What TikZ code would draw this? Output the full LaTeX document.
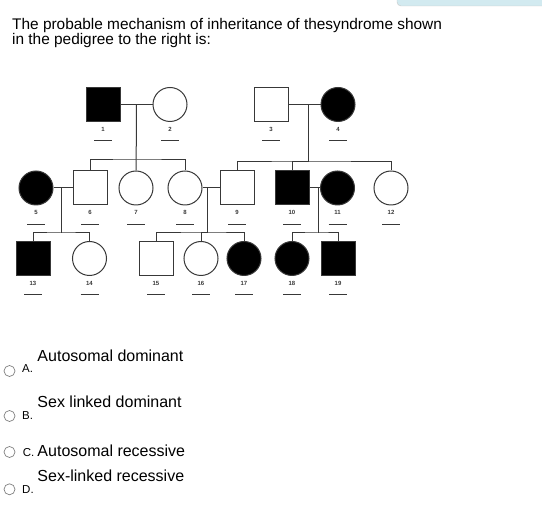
\documentclass[tikz,border=0pt]{standalone}
\usepackage{fontspec}
\setmainfont{Liberation Sans}
\usetikzlibrary{positioning}

\definecolor{pedline}{gray}{0.22}
\definecolor{barfill}{HTML}{D2EAF0}
\definecolor{radiogray}{gray}{0.5}

\tikzset{
  male/.style={draw=pedline, line width=1pt, rectangle, minimum size=34pt, inner sep=0pt},
  female/.style={draw=pedline, line width=1pt, circle, minimum size=34pt, inner sep=0pt},
  affected/.style={fill=black},
  idnum/.style={font=\fontsize{6}{6}\selectfont\bfseries, text=pedline, inner sep=0pt},
  kin/.style={draw=pedline, line width=1pt},
  blank/.style={draw=pedline, line width=0.9pt},
  radio/.style={draw=radiogray, circle, minimum size=11pt, inner sep=0pt, line width=0.7pt},
  question/.style={anchor=north west, inner sep=0pt, align=left, font=\fontsize{15.4}{12.3}\selectfont},
  choice/.style={anchor=base west, inner sep=0pt, font=\fontsize{16}{16}\selectfont},
  letter/.style={anchor=base west, inner sep=0pt, font=\fontsize{11.5}{11.5}\selectfont}
}

\begin{document}
\begin{tikzpicture}[x=1pt, y=-1pt]
\useasboundingbox (0,0) rectangle (542,518);

% top bar
\draw [draw=black!22, fill=barfill, rounded corners=4pt] (397,-10) rectangle (556,6);

% question
\node [question] (q) at (12,18) {The probable mechanism of inheritance of thesyndrome shown\\in the pedigree to the right is:};

% generation I
\node [male, affected] (p1) at (103,104.5) {};
\node [female] (p2) at (170,104.5) {};
\node [male] (p3) at (271,104.5) {};
\node [female, affected] (p4) at (338,104.5) {};

% generation II
\node [female, affected] (p5) at (36,188) {};
\node [male] (p6) at (90,188) {};
\node [female] (p7) at (136,188) {};
\node [female] (p8) at (185,188) {};
\node [male] (p9) at (237,188) {};
\node [male, affected] (p10) at (292,188) {};
\node [female, affected] (p11) at (337.5,188) {};
\node [female] (p12) at (391,188) {};

% generation III
\node [male, affected] (p13) at (33,258.5) {};
\node [female] (p14) at (89.5,258.5) {};
\node [male] (p15) at (156,258.5) {};
\node [female] (p16) at (201,258.5) {};
\node [female, affected] (p17) at (244,258.5) {};
\node [female, affected] (p18) at (292,258.5) {};
\node [male, affected] (p19) at (338,258.5) {};

% numbers and blanks
\foreach \i in {1,...,19}{
  \node [idnum, below=5pt of p\i] (n\i) {\i};
  \draw [blank] (n\i.south) ++(-9pt,-9pt) -- ++(18pt,0pt);
}

% matings and sibships
\coordinate (m12) at (136.5,104.5);
\coordinate (s12) at (136.5,160);
\draw [kin] (p1) -- (p2);
\draw [kin] (m12) -- (p7);
\draw [kin] (p6) |- (s12) -| (p8);

\coordinate (m34) at (308,104.5);
\coordinate (s34) at (308,162);
\draw [kin] (p3) -- (p4);
\draw [kin] (m34) -- (s34);
\draw [kin] (p9) |- (s34) -| (p12);
\draw [kin] (p10) |- (s34);

\coordinate (m56) at (61,188);
\coordinate (s56) at (61,233);
\draw [kin] (p5) -- (p6);
\draw [kin] (m56) -- (s56);
\draw [kin] (p13) |- (s56) -| (p14);

\coordinate (m89) at (207,188);
\coordinate (s89) at (207,233);
\draw [kin] (p8) -- (p9);
\draw [kin] (m89) -- (s89);
\draw [kin] (p15) |- (s89) -| (p17);
\draw [kin] (p16) |- (s89);

\coordinate (m1011) at (318,188);
\coordinate (s1011) at (318,233);
\draw [kin] (p10) -- (p11);
\draw [kin] (m1011) -- (s1011);
\draw [kin] (p18) |- (s1011) -| (p19);

% answer choices
\node [radio] (ra) at (9.5,371) {};
\node [letter] (la) at (22,372.7) {A.};
\node [choice] (ta) at (37.3,361.7) {Autosomal dominant};
\node [radio] (rb) at (9.5,416) {};
\node [letter] (lb) at (22,419.3) {B.};
\node [choice] (tb) at (37.3,407.3) {Sex linked dominant};
\node [radio] (rc) at (9.5,452) {};
\node [letter] (lc) at (22.7,456.7) {C.};
\node [choice] (tc) at (37.3,456.7) {Autosomal recessive};
\node [radio] (rd) at (9.5,489.3) {};
\node [letter] (ld) at (22,494) {D.};
\node [choice] (td) at (37.3,481.7) {Sex-linked recessive};
\end{tikzpicture}
\end{document}
